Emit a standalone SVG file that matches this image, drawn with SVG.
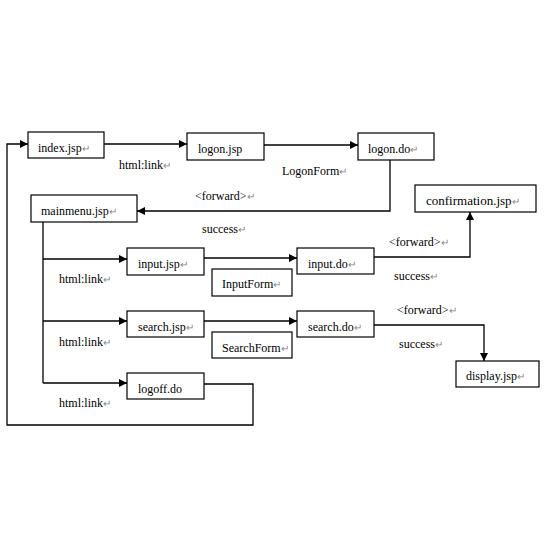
<svg xmlns="http://www.w3.org/2000/svg" width="551" height="551" viewBox="0 0 551 551">
<defs>
<marker id="ah" viewBox="0 0 10 10" refX="10" refY="5" markerWidth="9" markerHeight="8" markerUnits="userSpaceOnUse" orient="auto">
<path d="M0,0 L10,5 L0,10 z" fill="#000"/>
</marker>
<style>
.box{fill:#fff;stroke:#000;stroke-width:1.2}
.t{font-family:"Liberation Serif","Times New Roman",serif;font-size:12px;fill:#000}
.rm{fill:#888;font-size:10px}
.ln{fill:none;stroke:#000;stroke-width:1.3}
</style>
</defs>
<rect width="551" height="551" fill="#fff"/>
<g id="connectors">
<path class="ln" d="M104,144 H187" marker-end="url(#ah)"/>
<path class="ln" d="M264,145 H358" marker-end="url(#ah)"/>
<path class="ln" d="M390,160 V211 H137" marker-end="url(#ah)"/>
<path class="ln" d="M43,222 V383"/>
<path class="ln" d="M43,259 H127" marker-end="url(#ah)"/>
<path class="ln" d="M43,321 H127" marker-end="url(#ah)"/>
<path class="ln" d="M43,383 H127" marker-end="url(#ah)"/>
<path class="ln" d="M204,258 H297" marker-end="url(#ah)"/>
<path class="ln" d="M204,321 H297" marker-end="url(#ah)"/>
<path class="ln" d="M374,257 H470 V212" marker-end="url(#ah)"/>
<path class="ln" d="M374,325 H484 V361" marker-end="url(#ah)"/>
<path class="ln" d="M204,384 H253 V425 H7 V144 H28" marker-end="url(#ah)"/>
<text class="t" x="119" y="169">html:link<tspan class="rm">↵</tspan></text>
<text class="t" x="282" y="175">LogonForm<tspan class="rm">↵</tspan></text>
<text class="t" x="195" y="200">&lt;forward&gt;<tspan class="rm">↵</tspan></text>
<text class="t" x="202" y="233">success<tspan class="rm">↵</tspan></text>
<text class="t" x="59" y="283">html:link<tspan class="rm">↵</tspan></text>
<text class="t" x="59" y="346">html:link<tspan class="rm">↵</tspan></text>
<text class="t" x="59" y="407">html:link<tspan class="rm">↵</tspan></text>
<text class="t" x="389" y="246">&lt;forward&gt;<tspan class="rm">↵</tspan></text>
<text class="t" x="394" y="280">success<tspan class="rm">↵</tspan></text>
<text class="t" x="397" y="314">&lt;forward&gt;<tspan class="rm">↵</tspan></text>
<text class="t" x="399" y="348">success<tspan class="rm">↵</tspan></text>
</g>
<g id="index"><rect class="box" x="28" y="132" width="76" height="26"/><text class="t" x="38" y="152">index.jsp<tspan class="rm">↵</tspan></text></g>
<g id="logon-jsp"><rect class="box" x="187" y="133" width="77" height="27"/><text class="t" x="198" y="153">logon.jsp</text></g>
<g id="logon-do"><rect class="box" x="358" y="133" width="76" height="27"/><text class="t" x="368" y="153">logon.do<tspan class="rm">↵</tspan></text></g>
<g id="mainmenu"><rect class="box" x="31" y="195" width="106" height="27"/><text class="t" x="41" y="215">mainmenu.jsp<tspan class="rm">↵</tspan></text></g>
<g id="confirmation"><rect class="box" x="415" y="185" width="121" height="27"/><text class="t" x="426" y="205" style="font-size:13px">confirmation.jsp<tspan class="rm">↵</tspan></text></g>
<g id="input-jsp"><rect class="box" x="127" y="248" width="77" height="27"/><text class="t" x="138" y="268">input.jsp<tspan class="rm">↵</tspan></text></g>
<g id="input-do"><rect class="box" x="297" y="248" width="77" height="26"/><text class="t" x="308" y="268">input.do<tspan class="rm">↵</tspan></text></g>
<g id="inputform"><rect class="box" x="212" y="269" width="80" height="27"/><text class="t" x="222" y="288">InputForm<tspan class="rm">↵</tspan></text></g>
<g id="search-jsp"><rect class="box" x="127" y="311" width="77" height="26"/><text class="t" x="138" y="331">search.jsp<tspan class="rm">↵</tspan></text></g>
<g id="search-do"><rect class="box" x="297" y="311" width="77" height="26"/><text class="t" x="308" y="331">search.do<tspan class="rm">↵</tspan></text></g>
<g id="searchform"><rect class="box" x="212" y="332" width="80" height="26"/><text class="t" x="222" y="352">SearchForm<tspan class="rm">↵</tspan></text></g>
<g id="logoff"><rect class="box" x="127" y="373" width="77" height="26"/><text class="t" x="138" y="393">logoff.do</text></g>
<g id="display"><rect class="box" x="456" y="361" width="83" height="26"/><text class="t" x="466" y="380">display.jsp<tspan class="rm">↵</tspan></text></g>
</svg>
